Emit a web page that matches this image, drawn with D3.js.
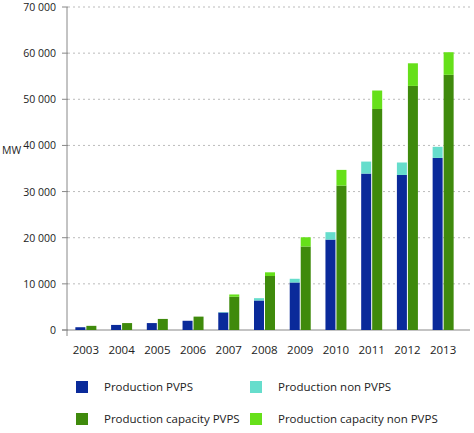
<!DOCTYPE html><html><head><script src="https://d3js.org/d3.v7.min.js"></script>
<style>body{margin:0;background:#fff}text{font-family:"Open Sans",sans-serif;fill:#222}</style></head><body>
<svg id="c" width="474" height="433"></svg>
<script>
const years=["2003","2004","2005","2006","2007","2008","2009","2010","2011","2012","2013"];
const prodPVPS=[600,1100,1500,2000,3800,6400,10300,19600,33900,33600,37300];
const prodNon=[0,0,0,0,100,500,800,1600,2600,2700,2400];
const capPVPS=[900,1500,2400,2900,7200,11700,18100,31300,47900,52900,55300];
const capNon=[0,0,0,0,500,800,2000,3400,4000,4900,4900];
const yTicks=[0,10000,20000,30000,40000,50000,60000,70000];
const colors={pp:"#0a2a9a",pn:"#66ddcc",cp:"#3f8a0c",cn:"#66e01a"};
const svg=d3.select("#c");
const x=d3.scaleBand().domain(years).range([68,461]);
const y=d3.scaleLinear().domain([0,70000]).range([330,7]);
const fmt=d=>d3.format(",")(d).replace(/,/g," ");
svg.selectAll(".g").data(yTicks.slice(1)).enter().append("line").attr("x1",68).attr("x2",470).attr("y1",d=>y(d)).attr("y2",d=>y(d)).attr("stroke","#bbb").attr("stroke-dasharray","2,3");
svg.selectAll(".t").data(yTicks).enter().append("text").attr("x",56).attr("y",d=>y(d)+4).attr("text-anchor","end").attr("font-size",10.5).text(fmt);
svg.selectAll(".tk").data(yTicks).enter().append("line").attr("x1",62).attr("x2",68).attr("y1",d=>y(d)).attr("y2",d=>y(d)).attr("stroke","#888");
svg.append("line").attr("x1",67).attr("x2",67).attr("y1",7).attr("y2",336).attr("stroke","#888");
svg.append("line").attr("x1",62).attr("x2",470).attr("y1",330).attr("y2",330).attr("stroke","#888");
svg.append("text").attr("x",2).attr("y",154).attr("font-size",10.5).text("MW");
const bw=10;
function bars(vals,base,col,off){svg.append("g").selectAll("rect").data(years).enter().append("rect")
 .attr("x",d=>x(d)+x.bandwidth()/2+off).attr("width",bw).attr("y",(d,i)=>y(base[i]+vals[i])).attr("height",(d,i)=>y(base[i])-y(base[i]+vals[i])).attr("fill",col);}
const zero=years.map(()=>0);
bars(prodPVPS,zero,colors.pp,-bw-0.5);bars(prodNon,prodPVPS,colors.pn,-bw-0.5);
bars(capPVPS,zero,colors.cp,0.5);bars(capNon,capPVPS,colors.cn,0.5);
svg.selectAll(".xl").data(years).enter().append("text").attr("x",d=>x(d)+x.bandwidth()/2).attr("y",354).attr("text-anchor","middle").attr("font-size",11.5).text(d=>d);
const leg=[["Production PVPS",colors.pp,76,387],["Production non PVPS",colors.pn,250,387],["Production capacity PVPS",colors.cp,76,419],["Production capacity non PVPS",colors.cn,250,419]];
leg.forEach(l=>{svg.append("rect").attr("x",l[2]).attr("y",l[3]-6).attr("width",12).attr("height",12).attr("fill",l[1]);
svg.append("text").attr("x",l[2]+28).attr("y",l[3]+4).attr("font-size",11.5).text(l[0]);});
</script></body></html>
